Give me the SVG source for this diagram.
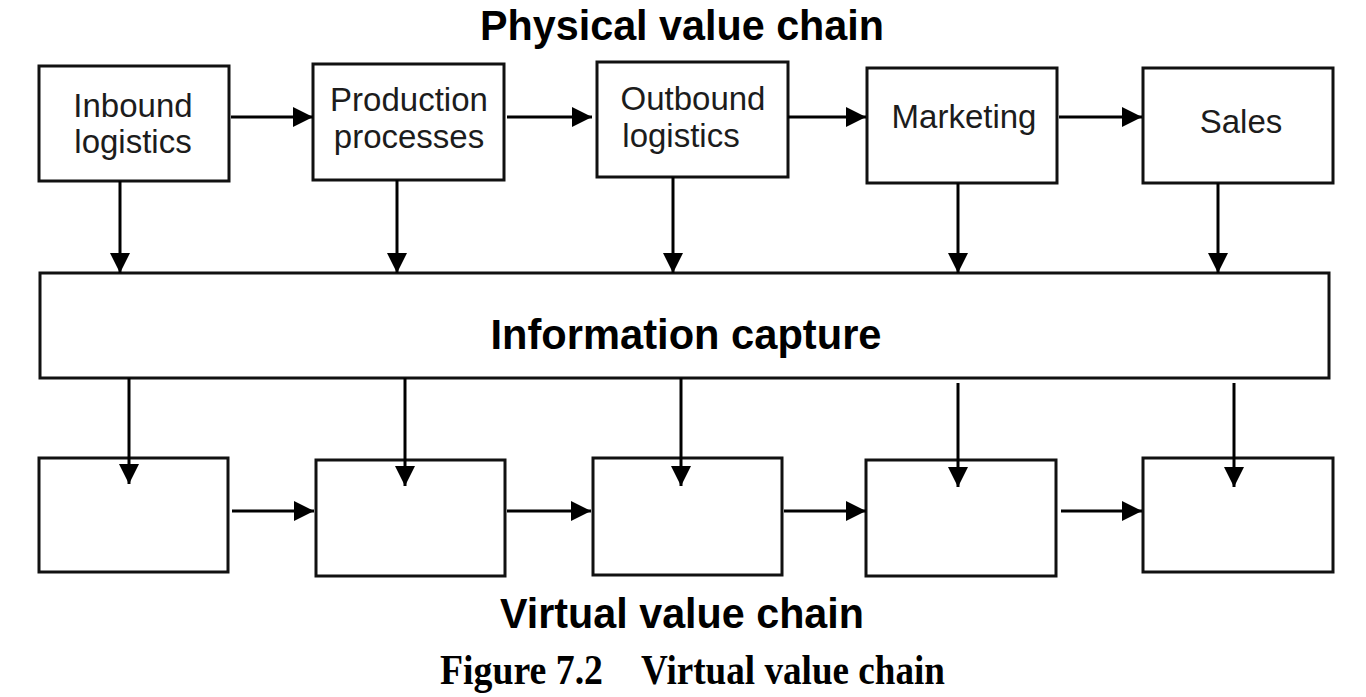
<svg xmlns="http://www.w3.org/2000/svg" width="1366" height="697" viewBox="0 0 1366 697">
  <defs>
    <marker id="arrow" markerUnits="userSpaceOnUse" markerWidth="20" markerHeight="20" refX="20" refY="10" orient="auto">
      <path d="M0,0 L20,10 L0,20 z" fill="#000"/>
    </marker>
    <style>
      .box { fill: #fff; stroke: #111; stroke-width: 3; }
      .lbl { font-family: "Liberation Sans", Arial, sans-serif; font-size: 33px; fill: #1c1c1c; text-anchor: middle; }
      .title { font-family: "Liberation Sans", Arial, sans-serif; font-size: 42px; font-weight: bold; fill: #000; text-anchor: middle; }
      .cap { font-family: "Liberation Serif", "Times New Roman", serif; font-size: 42px; font-weight: bold; fill: #000; }
      .conn line { stroke: #000; stroke-width: 3; marker-end: url(#arrow); }
    </style>
  </defs>
  <rect width="1366" height="697" fill="#fff"/>

  <text class="title" x="682" y="40" textLength="404" lengthAdjust="spacingAndGlyphs">Physical value chain</text>

  <g id="inbound">
    <rect class="box" x="39" y="66" width="190" height="115"/>
    <text class="lbl" x="133" y="117">Inbound</text>
    <text class="lbl" x="133" y="153">logistics</text>
  </g>
  <g id="production">
    <rect class="box" x="313" y="64" width="191" height="116"/>
    <text class="lbl" x="409" y="111">Production</text>
    <text class="lbl" x="409" y="148">processes</text>
  </g>
  <g id="outbound">
    <rect class="box" x="597" y="62" width="191" height="115"/>
    <text class="lbl" x="693" y="110">Outbound</text>
    <text class="lbl" x="681" y="147">logistics</text>
  </g>
  <g id="marketing">
    <rect class="box" x="867" y="68" width="190" height="115"/>
    <text class="lbl" x="964" y="128">Marketing</text>
  </g>
  <g id="sales">
    <rect class="box" x="1143" y="68" width="190" height="115"/>
    <text class="lbl" x="1241" y="133">Sales</text>
  </g>

  <g id="information-capture">
    <rect class="box" x="40" y="273" width="1289" height="105"/>
    <text class="title" x="686" y="349" textLength="391" lengthAdjust="spacingAndGlyphs">Information capture</text>
  </g>

  <g id="virtual-1"><rect class="box" x="39" y="458" width="189" height="114"/></g>
  <g id="virtual-2"><rect class="box" x="316" y="460" width="189" height="116"/></g>
  <g id="virtual-3"><rect class="box" x="593" y="458" width="189" height="117"/></g>
  <g id="virtual-4"><rect class="box" x="866" y="460" width="190" height="116"/></g>
  <g id="virtual-5"><rect class="box" x="1143" y="458" width="190" height="114"/></g>

  <g id="connectors" class="conn">
    <line x1="231" y1="117" x2="313" y2="117"/>
    <line x1="507" y1="117" x2="592" y2="117"/>
    <line x1="788" y1="117" x2="866" y2="117"/>
    <line x1="1059" y1="117" x2="1142" y2="117"/>

    <line x1="120" y1="181" x2="120" y2="273"/>
    <line x1="397" y1="180" x2="397" y2="273"/>
    <line x1="673" y1="177" x2="673" y2="273"/>
    <line x1="958" y1="183" x2="958" y2="273"/>
    <line x1="1218" y1="183" x2="1218" y2="273"/>

    <line x1="129" y1="378" x2="129" y2="484"/>
    <line x1="405" y1="378" x2="405" y2="486"/>
    <line x1="681" y1="378" x2="681" y2="486"/>
    <line x1="958" y1="383" x2="958" y2="487"/>
    <line x1="1234" y1="383" x2="1234" y2="487"/>

    <line x1="232" y1="511" x2="314" y2="511"/>
    <line x1="507" y1="511" x2="591" y2="511"/>
    <line x1="784" y1="511" x2="866" y2="511"/>
    <line x1="1061" y1="511" x2="1142" y2="511"/>
  </g>

  <text class="title" x="682" y="628" textLength="364" lengthAdjust="spacingAndGlyphs">Virtual value chain</text>

  <text class="cap" x="440" y="684" textLength="163" lengthAdjust="spacingAndGlyphs">Figure 7.2</text>
  <text class="cap" x="641" y="684" textLength="304" lengthAdjust="spacingAndGlyphs">Virtual value chain</text>
</svg>
